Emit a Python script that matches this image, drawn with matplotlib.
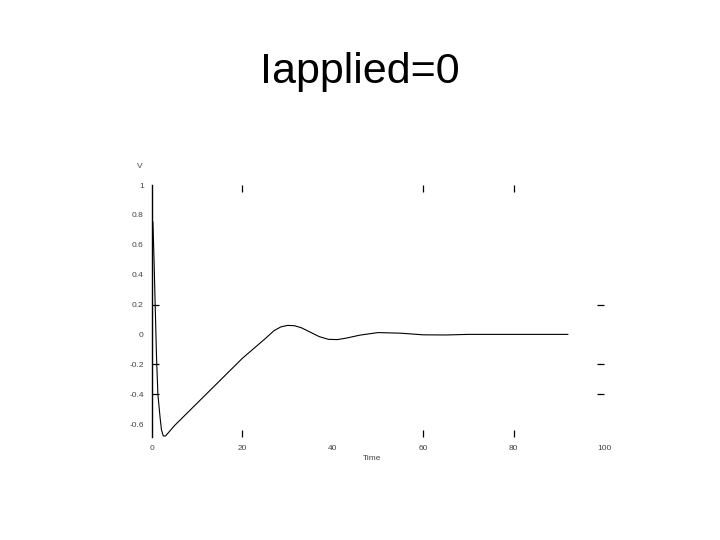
import matplotlib
matplotlib.use("Agg")
import matplotlib.pyplot as plt

plt.rcParams['font.family'] = ['Liberation Sans', 'DejaVu Sans']

time = [0, 0.2, 0.45, 0.7, 1.0, 1.3, 1.8, 2.1, 2.5, 3.0, 5, 10, 15, 20, 25, 27, 28.5,
        30, 31.5, 33, 35, 37, 39, 41, 43, 46, 50, 55, 60, 65, 70, 75, 80, 85, 92]
v = [0.77, 0.75, 0.5, 0.2, -0.15, -0.4, -0.56, -0.64, -0.68, -0.68, -0.61, -0.46, -0.31,
     -0.16, -0.03, 0.025, 0.05, 0.06, 0.058, 0.045, 0.015, -0.015, -0.033, -0.035,
     -0.025, -0.005, 0.012, 0.008, -0.003, -0.004, 0.0, 0.0, 0.0, 0.0, 0.0]
xticks = [0, 20, 40, 60, 80, 100]
yticks = [-0.6, -0.4, -0.2, 0, 0.2, 0.4, 0.6, 0.8, 1]
ytick_labels = ['-0.6', '-0.4', '-0.2', '0', '0.2', '0.4', '0.6', '0.8', '1']
visible_xticks = [20, 60, 80]
visible_yticks = [0.2, -0.2, -0.4]

fig = plt.figure(figsize=(7.2, 5.4), dpi=100)
ax = fig.add_axes([152/720, 1-437/540, (604-152)/720, (437-185)/540])
ax.plot(time, v, color='black', linewidth=0.8)
ax.set_xlim(0, 100)
ax.set_ylim(-0.687, 1)
ax.set_xticks(xticks)
ax.set_xticklabels([str(t) for t in xticks])
ax.set_yticks(yticks)
ax.set_yticklabels(ytick_labels)
for s in ['top', 'right', 'bottom']:
    ax.spines[s].set_visible(False)
ax.spines['left'].set_linewidth(1.0)
ax.tick_params(axis='both', direction='in', length=5, width=0.9, labelsize=6,
               labelcolor='#444444', top=True, right=True, pad=6)
for val, tick in zip(xticks, ax.xaxis.get_major_ticks()):
    show = val in visible_xticks
    tick.tick1line.set_visible(show)
    tick.tick2line.set_visible(show)
for val, tick in zip(yticks, ax.yaxis.get_major_ticks()):
    show = any(abs(val - s) < 1e-9 for s in visible_yticks)
    tick.tick1line.set_visible(show)
    tick.tick2line.set_visible(show)

fig.text(372/720, 1-458/540, 'Time', fontsize=6, color='#444444', ha='center', va='center')
fig.text(140/720, 1-167/540, 'V', fontsize=6, color='#444444', ha='center', va='center')
fig.text(0.5, 1-72/540, 'Iapplied=0', fontsize=31, ha='center', va='center')

fig.savefig('out.png', dpi=100)
